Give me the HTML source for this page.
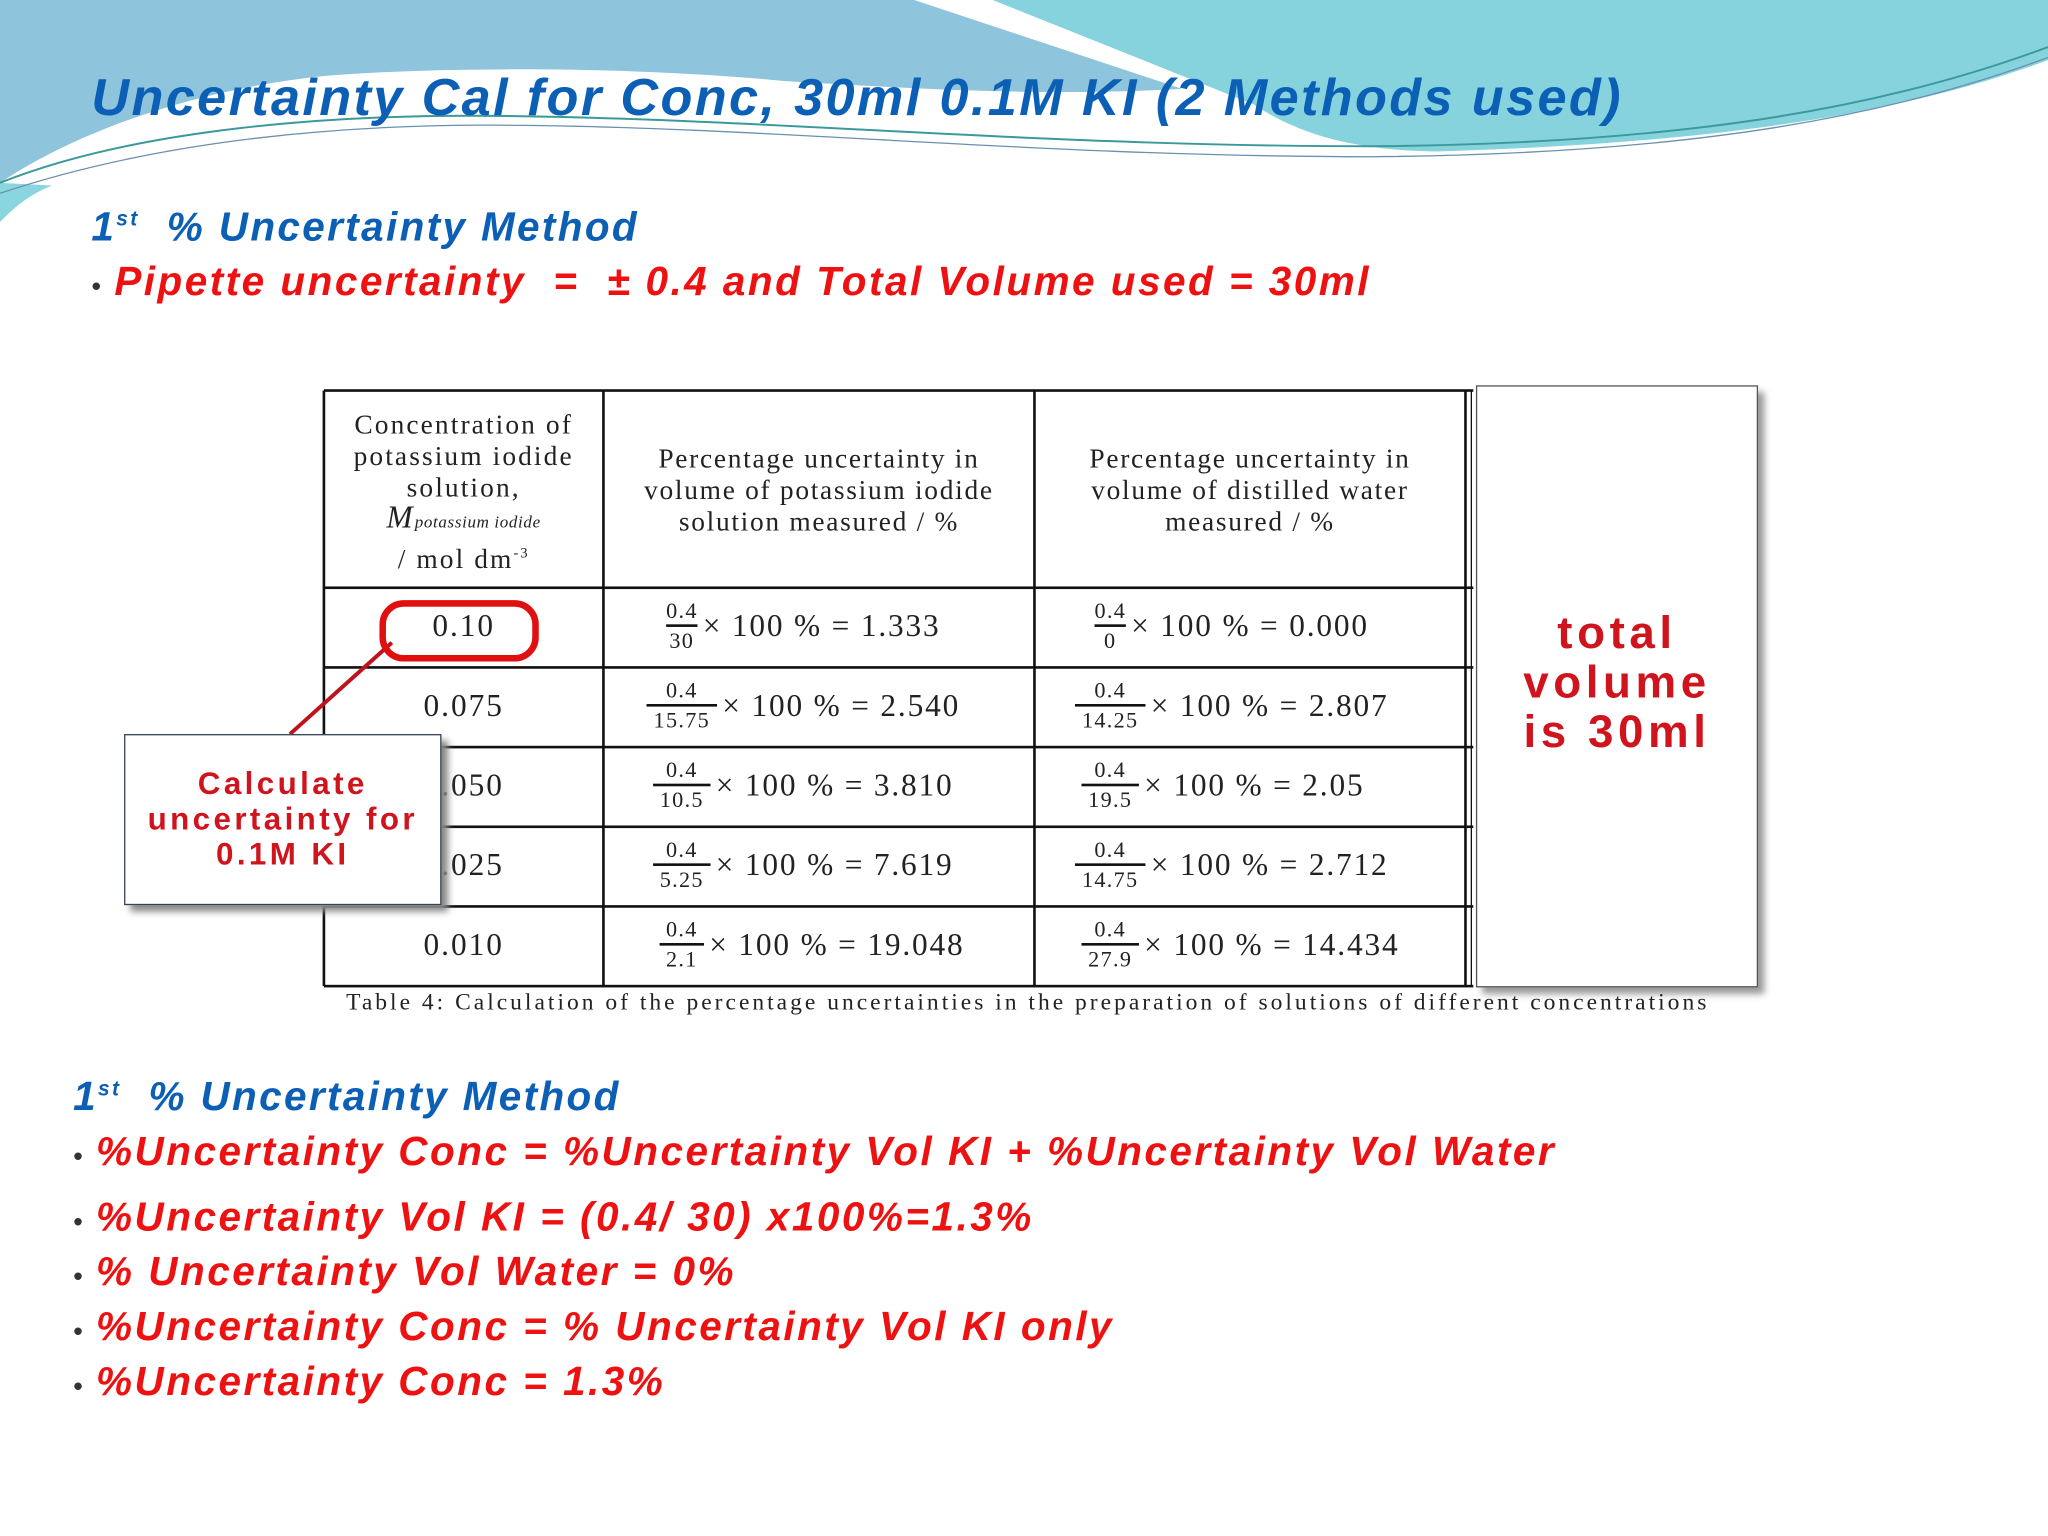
<!DOCTYPE html>
<html><head><meta charset="utf-8">
<style>
html,body{margin:0;padding:0;width:2048px;height:1536px;overflow:hidden;background:#fff}
#wrap{position:absolute;left:0;top:0;width:1568px;height:1176px;transform:scale(1.306122);transform-origin:0 0;font-family:"Liberation Sans",sans-serif}
.abs{position:absolute}
.ttl{color:#0b5fb5;font-style:italic;font-weight:bold;letter-spacing:1.8px}
.red{color:#ee1111;font-style:italic;font-weight:bold;font-size:31px;white-space:nowrap;letter-spacing:1.9px}
.red span{letter-spacing:0}
.ser{font-family:"Liberation Serif",serif;color:#222}
.hl{position:absolute;background:#111}
.frac{position:absolute;text-align:center;font-family:"Liberation Serif",serif;font-size:17px;color:#222;line-height:19px;letter-spacing:1px}
.frac .bar{border-top:2px solid #111;margin:1px 0}
.expr{position:absolute;font-family:"Liberation Serif",serif;font-size:24px;color:#222;white-space:nowrap;letter-spacing:1.4px}
</style></head><body>
<div id="wrap">
<svg class="abs" style="left:0;top:0" width="1568" height="260">
<path d="M0,0 L700,0 L905,68 C800,74 700,68 600,62 C500,52 350,50 250,58 C150,68 60,100 0,140 Z" fill="#8ec4dc"/>
<path d="M760,0 L1568,0 L1568,46 C1450,90 1300,110 1100,116 C1030,115 990,100 960,80 Z" fill="#86d3de"/>
<path d="M0,140 L0,170 C10,160 20,150 40,142 Z" fill="#8ad6df"/>
<path d="M0,140 C100,100 250,86 400,89 C600,92 800,112 1050,112 C1300,110 1450,80 1568,36" fill="none" stroke="#3a9a9a" stroke-width="1.5"/>
<path d="M0,148 C120,108 260,94 400,96 C600,98 800,120 1050,120 C1300,118 1450,88 1568,44" fill="none" stroke="#6a90b0" stroke-width="1"/>
</svg>
<div class="abs ttl" style="left:70px;top:53px;font-size:40px;white-space:nowrap">Uncertainty Cal for Conc, 30ml 0.1M KI (2 Methods used)</div>
<div class="abs ttl" style="left:70px;top:156px;font-size:31px;white-space:nowrap">1<sup style="font-size:16px">st</sup>&nbsp; % Uncertainty Method</div>
<div class="abs red" style="left:70px;top:198px"><span style="font-size:20px;color:#333">•</span> Pipette uncertainty&nbsp; =&nbsp; ± 0.4 and Total Volume used = 30ml</div>

<div class="abs" style="left:78px;top:273px;width:1358px;height:524px;background:#fff"></div>
<div id="tbl" class="abs" style="left:0;top:0"></div>

<div class="abs" style="left:1130px;top:295px;width:214px;height:459px;border:1.5px solid #555;background:#fff;box-shadow:5px 5px 5px #999">
<div style="position:absolute;top:170px;width:100%;text-align:center;color:#d0141e;font-weight:bold;font-size:35px;line-height:38px;letter-spacing:3.5px">total<br>volume<br>is 30ml</div></div>

<div class="abs ser" style="left:265px;top:757px;font-size:18px;white-space:nowrap;letter-spacing:2.3px">Table 4: Calculation of the percentage uncertainties in the preparation of solutions of different concentrations</div>

<svg class="abs" style="left:0;top:0" width="1568" height="800">
<line x1="222" y1="562" x2="300" y2="492" stroke="#c0121e" stroke-width="3"/>
<rect x="293" y="462" width="117" height="42" rx="16" fill="none" stroke="#e01010" stroke-width="5"/>
</svg>
<div class="abs" style="left:95px;top:562px;width:241px;height:129px;border:1.5px solid #345;background:#fff;box-shadow:5px 5px 5px #888;text-align:center;color:#d0141e;font-weight:bold;font-size:24px;line-height:27px;letter-spacing:2.6px"><div style="padding-top:24px">Calculate<br>uncertainty for<br>0.1M KI</div></div>

<div class="abs ttl" style="left:56px;top:822px;font-size:31px;white-space:nowrap">1<sup style="font-size:16px">st</sup>&nbsp; % Uncertainty Method</div>
<div class="abs red" style="left:56px;top:864px"><span style="font-size:20px;color:#333">•</span> %Uncertainty Conc = %Uncertainty Vol KI + %Uncertainty Vol Water</div>
<div class="abs red" style="left:56px;top:914px"><span style="font-size:20px;color:#333">•</span> %Uncertainty Vol KI = (0.4/ 30) x100%=1.3%</div>
<div class="abs red" style="left:56px;top:956px"><span style="font-size:20px;color:#333">•</span> % Uncertainty Vol Water = 0%</div>
<div class="abs red" style="left:56px;top:998px"><span style="font-size:20px;color:#333">•</span> %Uncertainty Conc = % Uncertainty Vol KI only</div>
<div class="abs red" style="left:56px;top:1040px"><span style="font-size:20px;color:#333">•</span> %Uncertainty Conc = 1.3%</div>
</div>
<script>
const conc=["0.10","0.075","0.050","0.025","0.010"];
const kiDen=["30","15.75","10.5","5.25","2.1"];
const kiVal=["1.333","2.540","3.810","7.619","19.048"];
const wDen=["0","14.25","19.5","14.75","27.9"];
const wVal=["0.000","2.807","2.05","2.712","14.434"];
const t=document.getElementById('tbl');
const cols=[248,462,792,1122],rows=[299,450,511,572,633,694,755];
function add(html,css){const d=document.createElement('div');d.className=css.cls||'';d.style.cssText=css.s;d.innerHTML=html;t.appendChild(d);return d;}
cols.forEach(x=>{const d=add('',{cls:'hl',s:`left:${x-1}px;top:${rows[0]}px;width:2px;height:${rows[6]-rows[0]}px`});

});
add('',{cls:'hl',s:`left:1126px;top:${rows[0]}px;width:1px;height:${rows[6]-rows[0]}px`});
rows.forEach(y=>{const d=add('',{cls:'hl',s:`left:248px;top:${y-1}px;width:880px;height:2px`});

});
const hs='position:absolute;text-align:center;font-size:21px;line-height:24px;letter-spacing:1.6px;white-space:nowrap';
const h1=add('Concentration of<br>potassium iodide<br>solution,<br><i style="font-size:24px">M</i><i style="font-size:13px;letter-spacing:0.5px">potassium iodide</i><br>/ mol dm<sup style="font-size:11px">-3</sup>',{cls:'ser',s:hs+';left:250px;top:313px;width:210px'});


const h2=add('Percentage uncertainty in<br>volume of potassium iodide<br>solution measured / %',{cls:'ser',s:hs+';left:464px;top:339px;width:326px;letter-spacing:1.3px'});


const h3=add('Percentage uncertainty in<br>volume of distilled water<br>measured / %',{cls:'ser',s:hs+';left:794px;top:339px;width:326px;letter-spacing:1.3px'});


for(let i=0;i<5;i++){
 const cy=(rows[i+1]+rows[i+2])/2;
 const c=add(conc[i],{cls:'ser',s:`position:absolute;left:250px;top:${cy-14}px;width:210px;text-align:center;font-size:24px;letter-spacing:1.5px`});
 
 
 [[496,kiDen,kiVal],[824,wDen,wVal]].forEach(([x,den,val])=>{
  const w=Math.max(24,den[i].length*10+4);
  const f=add(`<div>0.4</div><div class="bar"></div><div>${den[i]}</div>`,{cls:'frac',s:`left:${x+(52-w)/2}px;top:${cy-23}px;width:${w}px`});
  
  
  const e=add(`× 100 % = ${val[i]}`,{cls:'expr',s:`left:${x+(52+w)/2+4}px;top:${cy-14}px`});
  
  
 });
}
</script>
</body></html>
